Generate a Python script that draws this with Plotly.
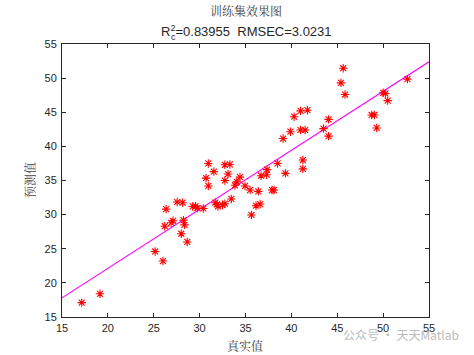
import plotly.graph_objects as go
import numpy as np

# measured (true) values and predicted values for the training set
true_vals = [17.15, 19.14, 25.15, 26.0, 26.2, 26.35, 26.9, 27.1, 27.55, 28.15,
             28.25, 28.35, 28.0, 28.65, 29.25, 29.55, 29.75, 30.4, 30.7, 30.95,
             30.95, 31.55, 31.7, 31.9, 32.0, 32.5, 32.75, 32.75, 33.3, 32.75,
             33.1, 33.45, 33.85, 34.05, 34.4, 34.95, 35.5, 35.65, 36.15, 36.6,
             36.4, 36.7, 37.3, 37.35, 37.9, 38.1, 38.5, 39.35, 39.1, 39.9,
             40.3, 41.0, 41.75, 41.0, 41.5, 41.25, 41.25, 43.5, 44.05, 44.05,
             45.4, 45.65, 45.85, 48.75, 49.05, 49.3, 50.0, 50.25, 50.5, 52.65]
pred_vals = [17.1, 18.4, 24.6, 23.2, 28.3, 30.8, 28.8, 29.1, 31.85, 31.75,
             29.2, 28.5, 27.2, 26.0, 31.2, 31.25, 30.95, 30.9, 35.35, 34.2,
             37.5, 36.3, 31.75, 31.5, 31.2, 31.4, 31.6, 37.3, 37.35, 35.0,
             35.95, 32.3, 34.3, 34.8, 35.5, 34.2, 33.6, 29.95, 31.3, 31.55,
             33.4, 35.7, 35.85, 36.6, 33.6, 33.6, 37.5, 36.05, 41.15, 42.15,
             44.35, 45.2, 45.3, 42.4, 42.4, 38.0, 36.7, 42.6, 43.95, 41.5,
             49.3, 51.45, 47.6, 44.6, 44.6, 42.7, 47.85, 47.75, 46.7, 49.85]

# linear fit coefficients (slope, intercept) of the drawn line
fit_coef = [0.865, 4.83]
axis_range = [15, 55]
tick_vals = [15, 20, 25, 30, 35, 40, 45, 50, 55]

title_line1 = "训练集效果图"
title_line2 = "R<sup>2</sup>=0.83955  RMSEC=3.0231"
title_sub = "c"
x_label = "真实值"
y_label = "预测值"
watermark = "公众号 · 天天Matlab"

fit_x = np.array(axis_range, dtype=float)
fit_y = fit_coef[0] * fit_x + fit_coef[1]

fig = go.Figure()
fig.add_trace(go.Scatter(
    x=fit_x, y=fit_y, mode="lines",
    line=dict(color="#ff00ff", width=1.2), showlegend=False, hoverinfo="skip"))
fig.add_trace(go.Scatter(
    x=true_vals, y=pred_vals, mode="markers",
    marker=dict(symbol="asterisk-open", size=7, color="red",
                line=dict(color="red", width=1.1)),
    showlegend=False))

W, H = 474, 355
ml, mr, mt, mb = 62, 45, 44, 38

axis_common = dict(
    range=axis_range, tickvals=tick_vals, ticks="inside", ticklen=4,
    tickcolor="#262626", showline=True, linecolor="#262626", linewidth=1,
    mirror="ticks", showgrid=False, zeroline=False,
    tickfont=dict(family="Liberation Sans, Arial", size=11, color="#262626"),
)

fig.update_layout(
    width=W, height=H,
    margin=dict(l=ml, r=mr, t=mt, b=mb),
    paper_bgcolor="white", plot_bgcolor="white",
    xaxis=dict(**axis_common),
    yaxis=dict(**axis_common),
)
fig.update_xaxes(ticklabelstandoff=1)
fig.update_yaxes(ticklabelstandoff=2)

def px2paper_x(px):
    return (px - ml) / (W - ml - mr)

def px2paper_y(py):
    return (H - mb - py) / (H - mt - mb)

cjk = "Noto Serif CJK SC, Noto Sans CJK SC"
fig.add_annotation(text=title_line1, xref="paper", yref="paper",
                   x=px2paper_x(246), y=px2paper_y(11), showarrow=False,
                   xanchor="center", yanchor="middle",
                   font=dict(family=cjk, size=12, color="#444444"))
fig.add_annotation(text=title_line2, xref="paper", yref="paper",
                   x=px2paper_x(246), y=px2paper_y(31), showarrow=False,
                   xanchor="center", yanchor="middle",
                   font=dict(family="Liberation Sans, Arial", size=13, color="#262626"))
fig.add_annotation(text=title_sub, xref="paper", yref="paper",
                   x=px2paper_x(173.5), y=px2paper_y(37), showarrow=False,
                   xanchor="center", yanchor="middle",
                   font=dict(family="Liberation Sans, Arial", size=9, color="#262626"))
fig.add_annotation(text=x_label, xref="paper", yref="paper",
                   x=px2paper_x(245), y=px2paper_y(345), showarrow=False,
                   xanchor="center", yanchor="middle",
                   font=dict(family=cjk, size=12, color="#444444"))
fig.add_annotation(text=y_label, xref="paper", yref="paper",
                   x=px2paper_x(29), y=px2paper_y(180), showarrow=False,
                   xanchor="center", yanchor="middle", textangle=-90,
                   font=dict(family=cjk, size=12, color="#444444"))
fig.add_annotation(text=watermark, xref="paper", yref="paper",
                   x=px2paper_x(401), y=px2paper_y(334), showarrow=False,
                   xanchor="center", yanchor="middle",
                   font=dict(family="Noto Sans CJK SC", size=12, color="#bbbbbb"))

fig.write_html("out.html", config={"displayModeBar": False},
               post_script="document.body.style.margin='0px';document.body.style.padding='0px';")
